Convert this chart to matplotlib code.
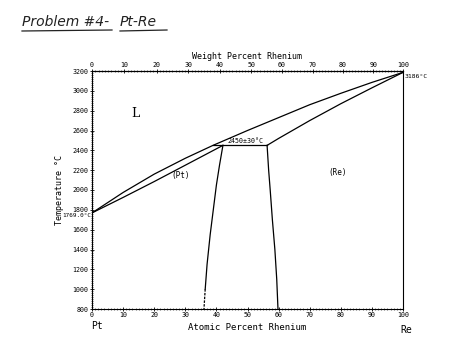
"""Pt-Re phase diagram, scanned-textbook look."""
import numpy as np
import matplotlib
matplotlib.use("Agg")
import matplotlib.pyplot as plt
from matplotlib.ticker import MultipleLocator

plt.rcParams.update({
    "font.family": ["DejaVu Sans Mono"],
    "axes.linewidth": 0.8,
})

# ---- data (atomic % Re, temperature degC) ----
liq_x = [0, 10, 20, 30, 38.9, 50, 60, 70, 80, 90, 100]
liq_t = [1769, 1975, 2160, 2320, 2450, 2600, 2730, 2860, 2975, 3085, 3186]

pt_sol_x = [0, 10, 20, 30, 42.1]
pt_sol_t = [1769, 1925, 2085, 2250, 2450]

re_sol_x = [56.3, 60, 70, 80, 90, 100]
re_sol_t = [2450, 2520, 2700, 2870, 3030, 3186]

pt_solv_x = [42.1, 41.0, 40.0, 39.0, 38.0, 37.0, 36.4]
pt_solv_t = [2450, 2250, 2050, 1800, 1550, 1250, 1000]
pt_solv_low_x = [36.4, 36.0]
pt_solv_low_t = [1000, 800]

re_solv_x = [56.3, 56.8, 57.3, 58.0, 58.8, 59.4, 59.8]
re_solv_t = [2450, 2200, 2000, 1700, 1400, 1100, 800]

peri_x = [38.9, 56.3]
peri_t = [2450, 2450]

M_PT, M_RE = 195.084, 186.207


def at_to_wt(a):
    a = np.asarray(a, dtype=float)
    return 100 * a * M_RE / (a * M_RE + (100 - a) * M_PT)


def wt_to_at(w):
    w = np.asarray(w, dtype=float)
    return 100 * (w / M_RE) / (w / M_RE + (100 - w) / M_PT)


fig = plt.figure(figsize=(4.74, 3.53), dpi=100)
ax = fig.add_axes([92 / 474, 1 - 309 / 353, (403 - 92) / 474, (309 - 71) / 353])

kw = dict(color="black", lw=0.9)
ax.plot(liq_x, liq_t, **kw)
ax.plot(pt_sol_x, pt_sol_t, **kw)
ax.plot(re_sol_x, re_sol_t, **kw)
ax.plot(pt_solv_x, pt_solv_t, **kw)
ax.plot(pt_solv_low_x, pt_solv_low_t, color="black", lw=0.9, ls=(0, (2, 1)))
ax.plot(re_solv_x, re_solv_t, **kw)
ax.plot(peri_x, peri_t, **kw)

ax.set_xlim(0, 100)
ax.set_ylim(800, 3200)

ax.xaxis.set_major_locator(MultipleLocator(10))
ax.xaxis.set_minor_locator(MultipleLocator(1))
ax.yaxis.set_major_locator(MultipleLocator(200))
ax.yaxis.set_minor_locator(MultipleLocator(20))
ax.tick_params(which="major", labelsize=4.8, length=3, width=0.6, direction="inout")
ax.tick_params(which="minor", length=1.5, width=0.4, direction="inout")
ax.tick_params(axis="x", pad=1)
ax.tick_params(axis="y", pad=1)

sec = ax.secondary_xaxis("top", functions=(at_to_wt, wt_to_at))
sec.xaxis.set_major_locator(MultipleLocator(10))
sec.xaxis.set_minor_locator(MultipleLocator(1))
sec.tick_params(which="major", labelsize=4.8, length=3, width=0.6, direction="inout", pad=1)
sec.tick_params(which="minor", length=1.5, width=0.4, direction="inout")
sec.set_xlabel("Weight Percent Rhenium", fontsize=6, labelpad=2)

ax.set_xlabel("Atomic Percent Rhenium", fontsize=6.5, labelpad=3)
ax.set_ylabel("Temperature \u00b0C", fontsize=6, labelpad=6)

# annotations
ax.text(13.8, 2776, "L", fontsize=9, family="DejaVu Serif", ha="center", va="center")
ax.text(28.6, 2150, "(Pt)", fontsize=5.5, ha="center", va="center")
ax.text(79.1, 2181, "(Re)", fontsize=5.5, ha="center", va="center")
ax.text(49.5, 2462, "2450\u00b130\u00b0C", fontsize=4.8, ha="center", va="bottom")
ax.text(-0.3, 1742, "1769.0\u00b0C", fontsize=4.3, ha="right", va="center")
ax.text(100.5, 3170, "3186\u00b0C", fontsize=4.6, ha="left", va="top")

fig.text(97 / 474, 1 - 326 / 353, "Pt", fontsize=7, ha="center", va="center")
fig.text(406 / 474, 1 - 330 / 353, "Re", fontsize=7, ha="center", va="center")

# handwritten heading
fig.text(22 / 474, 1 - 22 / 353, "Problem #4-", fontsize=10, family="DejaVu Sans",
         style="italic", weight="light", ha="left", va="center", color="#222222")
fig.text(120 / 474, 1 - 22 / 353, "Pt-Re", fontsize=10, family="DejaVu Sans",
         style="italic", weight="light", ha="left", va="center", color="#222222")
fig.add_artist(plt.Line2D([22 / 474, 112 / 474], [1 - 31 / 353, 1 - 30 / 353],
                          color="#222222", lw=0.9))
fig.add_artist(plt.Line2D([120 / 474, 167 / 474], [1 - 31 / 353, 1 - 30 / 353],
                          color="#222222", lw=0.9))

fig.savefig("out.png", dpi=100)
plt.close(fig)
